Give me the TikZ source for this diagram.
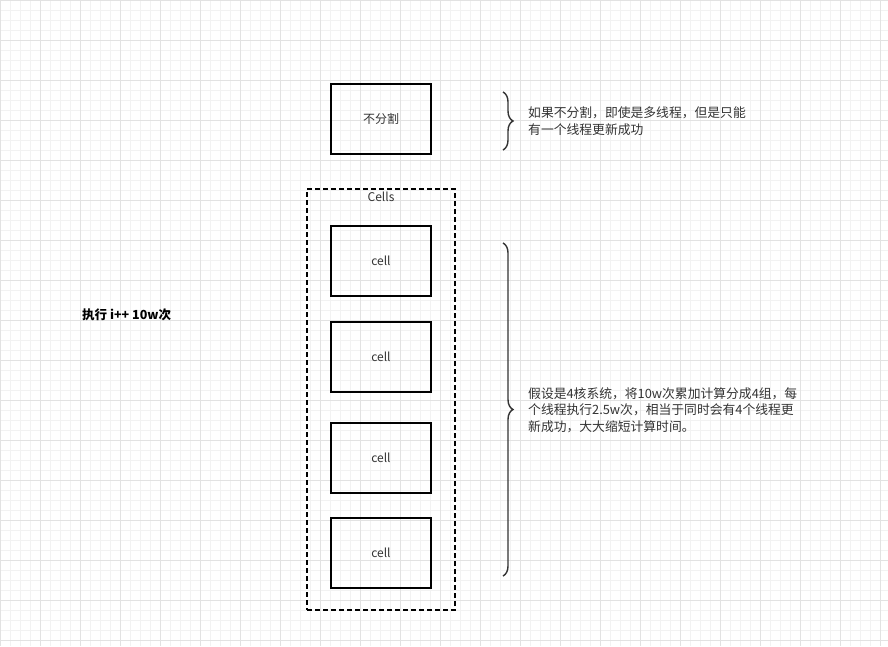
\documentclass[tikz,border=0pt]{standalone}
\usepackage{fontspec}
\setmainfont{Noto Sans CJK SC}
\usetikzlibrary{decorations.pathreplacing}
\definecolor{gminor}{HTML}{F2F2F2}
\definecolor{gmajor}{HTML}{E2E2E2}
\definecolor{txt}{HTML}{333333}
\begin{document}
\begin{tikzpicture}[x=1pt,y=-1pt,
  box/.style={draw=black,line width=1.4pt,minimum width=100pt,minimum height=70pt,inner sep=0pt,font=\fontsize{12}{14}\selectfont,text=txt},
  lbl/.style={anchor=west,align=left,font=\fontsize{12.8}{16.5}\selectfont,text=txt,inner sep=0pt},
  brc/.style={draw=txt,line width=1.4pt,decorate,decoration={brace,amplitude=10pt}}]
\useasboundingbox (0,0) rectangle (888,646);
\fill[white] (0,0) rectangle (888,646);
\foreach \i in {0,10,...,880} \draw[gminor,line width=0.6pt] (\i,0) -- (\i,646);
\foreach \i in {0,10,...,640} \draw[gminor,line width=0.6pt] (0,\i) -- (888,\i);
\foreach \i in {0,40,...,880} \draw[gmajor,line width=0.6pt] (\i,0) -- (\i,646);
\foreach \i in {0,40,...,640} \draw[gmajor,line width=0.6pt] (0,\i) -- (888,\i);
\node[box] (top) at (381,119) {不分割};
\node[draw=black,line width=1.4pt,dash pattern=on 5pt off 3pt,minimum width=148pt,minimum height=421pt,inner sep=0pt] (cells) at (381,399.5) {};
\node[font=\fontsize{12}{14}\selectfont,text=txt] (ct) at (381,197) {Cells};
\node[box] (c1) at (381,261) {cell};
\node[box] (c2) at (381,357) {cell};
\node[box] (c3) at (381,458) {cell};
\node[box] (c4) at (381,553) {cell};
\coordinate (b1a) at (503,92); \coordinate (b1b) at (503,150);
\draw[brc] (b1a) -- (b1b);
\coordinate (b2a) at (503,243); \coordinate (b2b) at (503,576);
\draw[brc] (b2a) -- (b2b);
\node[lbl] (t1) at (528,121) {如果不分割，即使是多线程，但是只能\\有一个线程更新成功};
\node[lbl] (t2) at (528,410) {假设是4核系统，将10w次累加计算分成4组，每\\个线程执行2.5w次，相当于同时会有4个线程更\\新成功，大大缩短计算时间。};
\node[lbl,font=\bfseries\fontsize{12.5}{14}\selectfont,text=black] (left) at (82,315) {执行 i++ 10w次};
\end{tikzpicture}
\end{document}
